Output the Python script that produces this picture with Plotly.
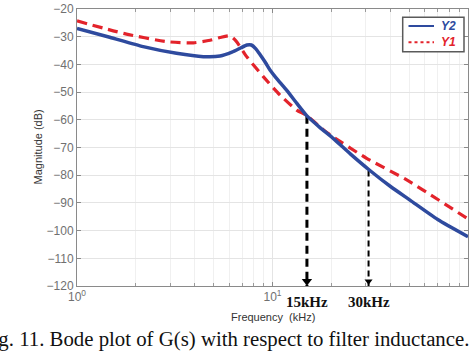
import plotly.graph_objects as go
import math

# ---- data ----
freq_y2 = [1.0, 1.47, 2.18, 3.23, 4.43, 5.39, 6.2, 6.9, 7.4, 7.8, 8.2, 8.63, 9.2, 9.71, 10.7, 11.8, 13.3, 14.96, 17.5, 20.5, 25.0, 31.5, 40.0, 50.5, 70.0, 100]
mag_y2 = [-27.0, -30.2, -33.6, -36.0, -37.2, -37.0, -35.6, -34.0, -33.0, -33.0, -34.3, -36.4, -39.3, -42.0, -45.8, -49.3, -54.0, -58.5, -62.8, -66.8, -72.3, -78.3, -84.0, -89.0, -96.0, -102.2]

freq_y1 = [1.0, 1.73, 2.88, 3.94, 4.8, 5.39, 6.06, 6.5, 7.38, 8.97, 10.9, 13.3, 15.0, 18.9, 30.3, 48.6, 100]
mag_y1 = [-24.3, -28.8, -31.8, -32.2, -31.3, -30.3, -29.7, -31.5, -37.2, -44.4, -51.0, -56.5, -58.5, -64.5, -73.9, -81.7, -95.8]

mark_freq = [15, 31]
mark_mag = [-58.5, -78.3]
mark_labels = ["15kHz", "30kHz"]

legend_names = ["Y2", "Y1"]

x_tickvals = [1, 10, 100]
x_ticktext = ["10<sup>0</sup>", "10<sup>1</sup>", "10<sup>2</sup>"]
y_tickvals = list(range(-120, -19, 10))

BLUE = "#2E4A9E"
RED = "#E3232B"
W, H = 474, 353
L, R, T, B = 77, 6, 9, 67
pw = W - L - R
ph = H - T - B


def px(x):
    return (x - L) / pw


def py(y):
    return (H - B - y) / ph


fig = go.Figure()

# marker dashed arrows
widths = [3, 2]
dashes = ["8px,5px", "6px,4px"]
for i, (f, m) in enumerate(zip(mark_freq, mark_mag)):
    fig.add_trace(go.Scatter(x=[f, f], y=[m, -120], mode="lines",
                             line=dict(color="black", width=widths[i], dash=dashes[i]),
                             showlegend=False, hoverinfo="skip", cliponaxis=False))
    fig.add_trace(go.Scatter(x=[f], y=[-118.3], mode="markers",
                             marker=dict(symbol="triangle-down", size=[9, 7][i], color="black"),
                             showlegend=False, hoverinfo="skip", cliponaxis=False))

fig.add_trace(go.Scatter(x=freq_y1, y=mag_y1, mode="lines", line_shape="spline",
                         line=dict(color=RED, width=3.2, dash="10px,6px", smoothing=0.6),
                         name="Y1", showlegend=False, hoverinfo="skip"))
fig.add_trace(go.Scatter(x=freq_y2, y=mag_y2, mode="lines", line_shape="spline",
                         line=dict(color=BLUE, width=3.5, smoothing=0.6),
                         name="Y2", showlegend=False, hoverinfo="skip"))

axis_common = dict(showline=True, linecolor="#8a8a8a", linewidth=1, mirror="ticks",
                   ticks="inside", ticklen=4, tickcolor="#8a8a8a",
                   tickfont=dict(family="Liberation Sans, Arial", size=12, color="#707070"),
                   zeroline=False, gridcolor="#e4e4e4", gridwidth=1)

fig.update_xaxes(type="log", range=[0, 2], tickvals=x_tickvals, ticktext=x_ticktext,
                 minor=dict(tickvals=[a * b for b in (1, 10) for a in range(2, 10)],
                            showgrid=True, gridcolor="#f0f0f0", ticks="inside",
                            ticklen=3, tickcolor="#9a9a9a"),
                 **axis_common)
fig.update_yaxes(range=[-120, -20], tickvals=y_tickvals, **axis_common)

annotations = []
annotations.append(dict(text="Magnitude (dB)", xref="paper", yref="paper", x=0, y=0.5,
                        xanchor="center", yanchor="middle", xshift=-40, textangle=-90,
                        showarrow=False, font=dict(family="Liberation Sans, Arial", size=11, color="#333")))
annotations.append(dict(text="Frequency  (kHz)", xref="paper", yref="paper", x=0.5, y=0,
                        xanchor="center", yanchor="middle", yshift=-31,
                        showarrow=False, font=dict(family="Liberation Sans, Arial", size=11, color="#333")))
for f, lab in zip(mark_freq, mark_labels):
    annotations.append(dict(text=f"<b>{lab}</b>", xref="x", yref="paper", x=math.log10(f), y=0,
                            xanchor="center", yanchor="middle", yshift=-16, showarrow=False,
                            font=dict(family="Liberation Serif, Times New Roman", size=15, color="#111")))
annotations.append(dict(text="Fig. 11. Bode plot of G(s) with respect to filter inductance.",
                        xref="paper", yref="paper", x=1, y=0, xanchor="right", yanchor="middle",
                        xshift=R - 3, yshift=-53, showarrow=False,
                        font=dict(family="Liberation Serif, Times New Roman", size=20.8, color="#111")))

# manual legend
shapes = [dict(type="rect", xref="paper", yref="paper", x0=px(402.7), x1=px(464), y0=py(51.7), y1=py(17.3),
               fillcolor="white", line=dict(color="#5a5a5a", width=1.5), layer="above")]
leg_colors = [BLUE, RED]
leg_dash = ["solid", "dot"]
leg_y = [26, 42.3]
for name, c, d, yy in zip(legend_names, leg_colors, leg_dash, leg_y):
    shapes.append(dict(type="line", xref="paper", yref="paper", x0=px(408.5), x1=px(434),
                       y0=py(yy), y1=py(yy), line=dict(color=c, width=2, dash=d), layer="above"))
    annotations.append(dict(text=f"<b><i>{name}</i></b>", xref="paper", yref="paper",
                            x=px(438.5), y=py(yy), xanchor="left", yanchor="middle", showarrow=False,
                            font=dict(family="Liberation Sans, Arial", size=12, color=c)))

fig.update_layout(
    width=W, height=H, margin=dict(l=L, r=R, t=T, b=B, autoexpand=False),
    paper_bgcolor="white", plot_bgcolor="white",
    annotations=annotations, shapes=shapes, showlegend=False,
)

fig.write_html("out.html")
